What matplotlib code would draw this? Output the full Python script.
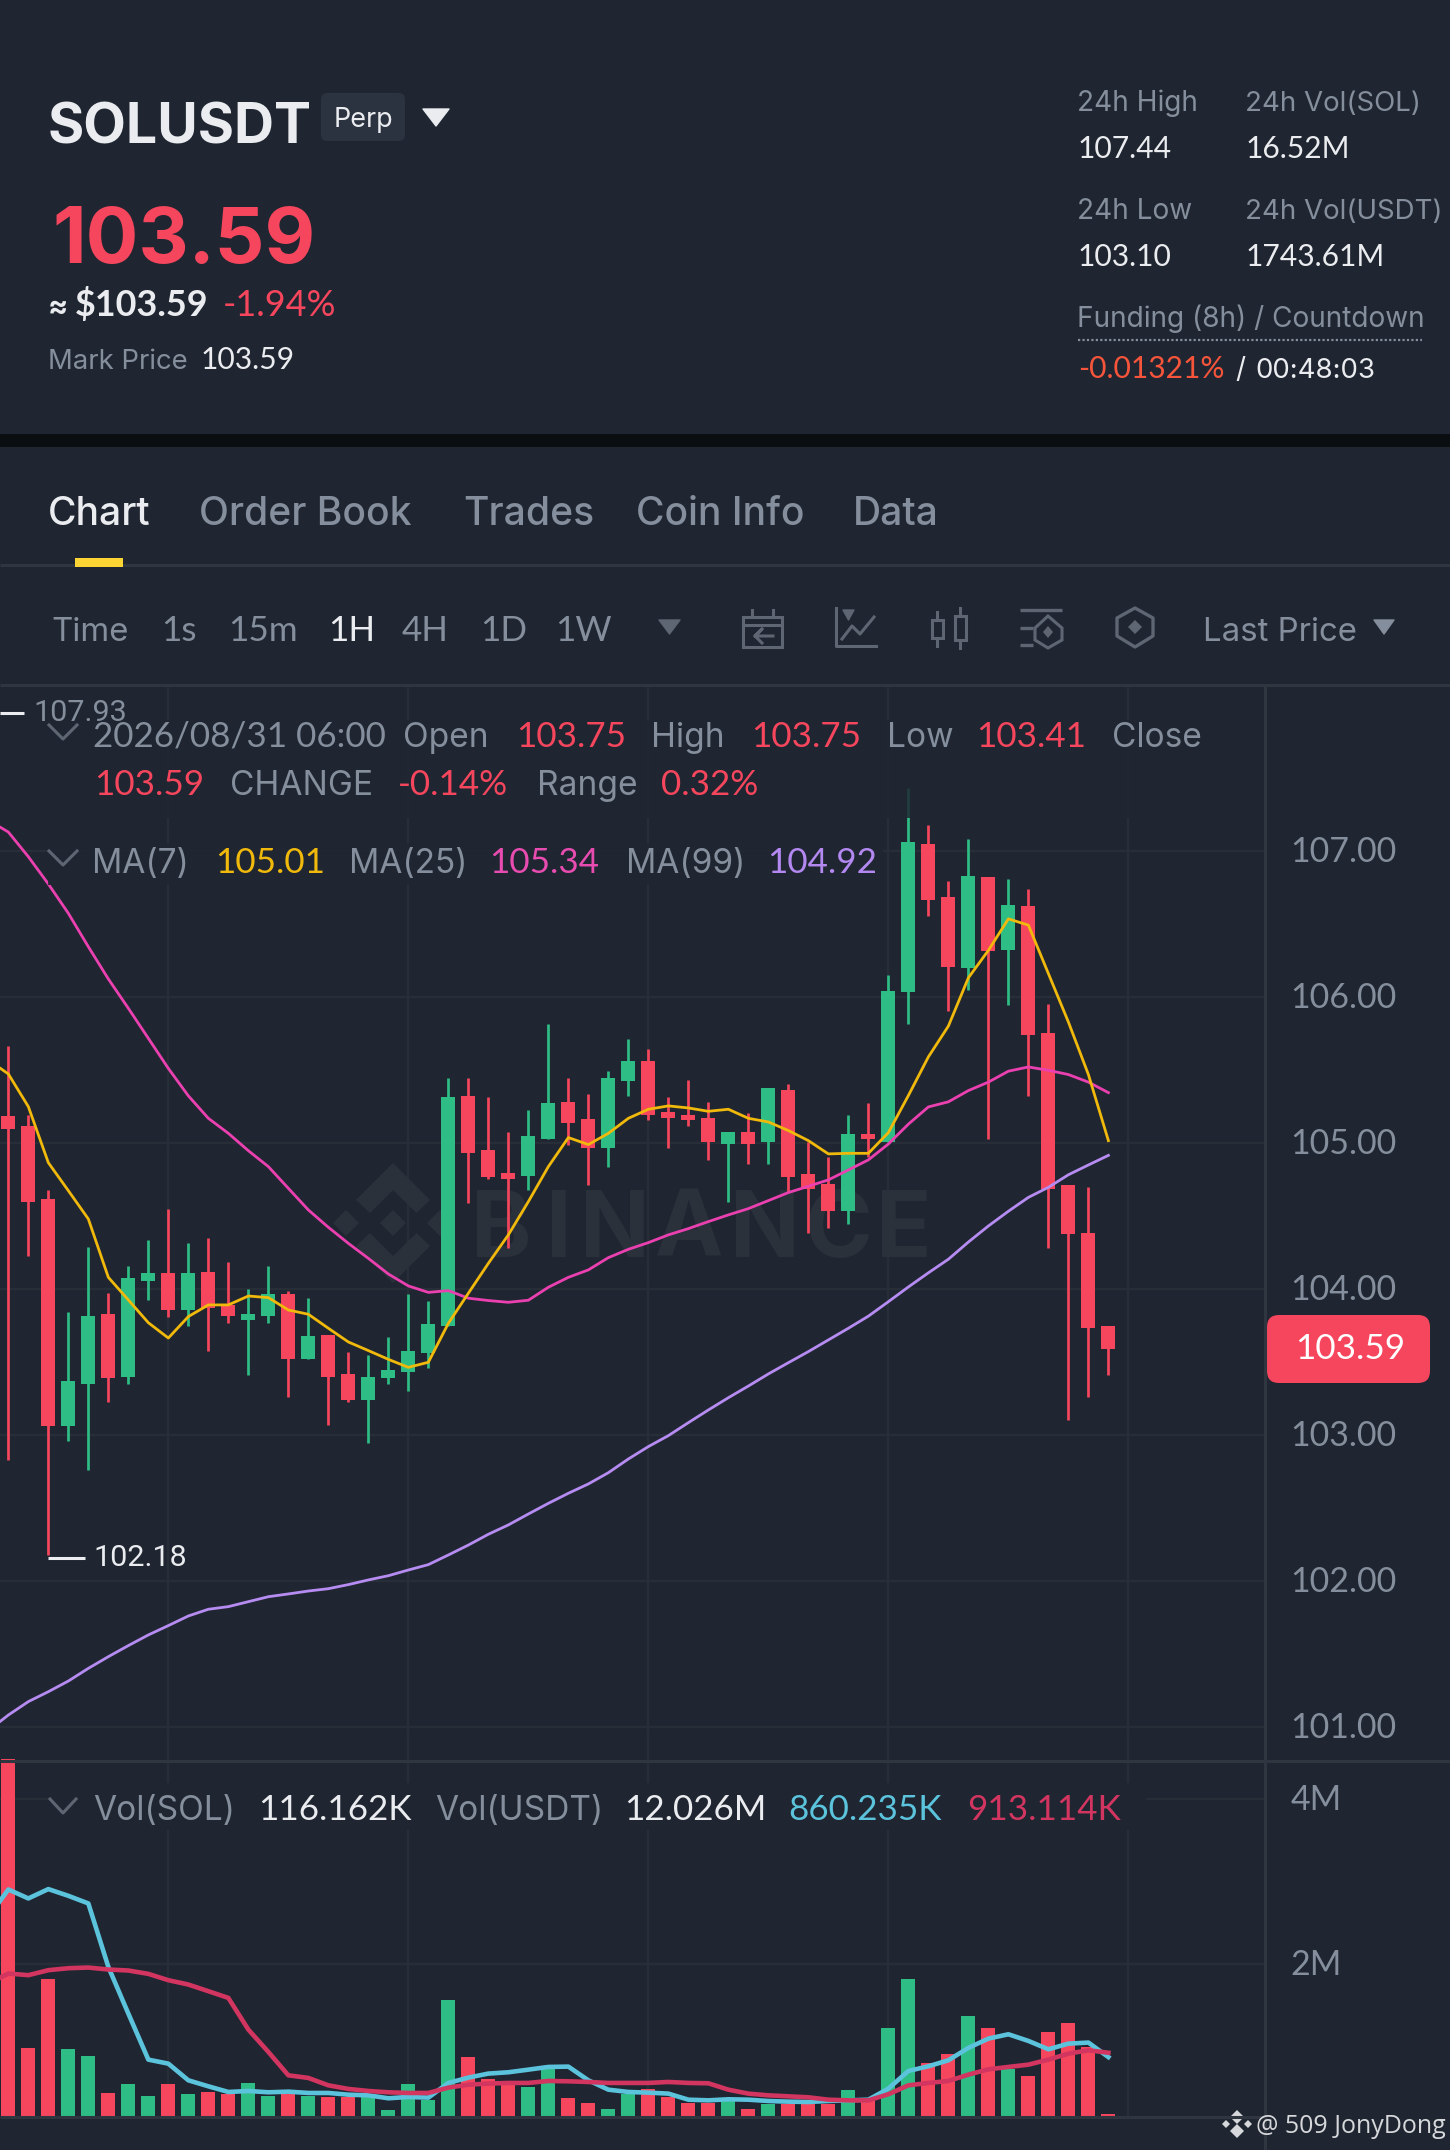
import numpy as np
import matplotlib
matplotlib.use('Agg')
import matplotlib.pyplot as plt
from matplotlib.patches import Rectangle, FancyBboxPatch, Polygon
from matplotlib.transforms import ScaledTranslation

# 1H candles, left to right
opens = [105.187, 105.118, 104.618, 103.060, 103.350, 103.830, 103.400, 104.058, 104.109, 103.857,
         104.118, 103.892, 103.789, 103.818, 103.967, 103.519, 103.688, 103.419, 103.240, 103.389,
         103.430, 103.560, 103.750, 105.326, 104.956, 104.797, 104.778, 105.027, 105.285, 105.167,
         104.968, 105.427, 105.564, 105.217, 105.196, 105.176, 104.998, 105.078, 105.007, 105.365,
         104.787, 104.719, 104.538, 105.066, 105.009, 106.036, 107.052, 106.685, 106.198, 106.824,
         106.325, 106.625, 105.757, 104.715, 104.386, 103.750]
closes = [105.098, 104.600, 103.060, 103.368, 103.818, 103.389, 104.077, 104.109, 103.857, 104.109,
          103.869, 103.818, 103.830, 103.967, 103.519, 103.679, 103.398, 103.240, 103.398, 103.448,
          103.579, 103.759, 105.317, 104.936, 104.767, 104.758, 105.048, 105.276, 105.137, 104.968,
          105.445, 105.564, 105.196, 105.176, 105.158, 105.007, 105.078, 104.998, 105.377, 104.767,
          104.689, 104.538, 105.066, 105.027, 106.045, 107.063, 106.668, 106.206, 106.832, 106.316,
          106.633, 105.739, 104.689, 104.381, 103.732, 103.590]
highs = [105.667, 105.194, 104.680, 103.846, 104.287, 103.976, 104.159, 104.337, 104.547, 104.316,
         104.348, 104.189, 103.999, 104.159, 103.987, 103.937, 103.688, 103.567, 103.549, 103.670,
         103.967, 103.917, 105.447, 105.447, 105.317, 105.078, 105.226, 105.816, 105.445, 105.336,
         105.496, 105.715, 105.644, 105.317, 105.434, 105.285, 105.078, 105.206, 105.377, 105.407,
         105.007, 104.909, 105.196, 105.276, 106.155, 107.432, 107.181, 106.795, 107.083, 106.824,
         106.812, 106.743, 105.956, 104.715, 104.698, 103.750]
lows = [102.829, 104.227, 102.180, 102.962, 102.761, 103.229, 103.350, 103.928, 103.809, 103.750,
        103.579, 103.770, 103.409, 103.770, 103.259, 103.519, 103.069, 103.229, 102.948, 103.350,
        103.302, 103.460, 103.750, 104.588, 104.758, 104.280, 104.680, 105.027, 104.988, 104.717,
        104.840, 105.327, 105.158, 104.968, 105.119, 104.888, 104.600, 104.858, 104.858, 104.669,
        104.388, 104.420, 104.449, 104.909, 105.009, 105.817, 106.555, 105.907, 106.048, 105.030,
        105.947, 105.327, 104.280, 103.100, 103.262, 103.410]

# moving averages, first value sits one candle left of the screen
ma7 = [105.571, 105.475, 105.251, 104.867, 104.675, 104.481, 104.081, 103.926, 103.770, 103.665,
       103.812, 103.892, 103.892, 103.953, 103.942, 103.857, 103.828, 103.732, 103.638, 103.579,
       103.519, 103.464, 103.499, 103.766, 103.972, 104.177, 104.372, 104.600, 104.840, 105.039,
       104.991, 105.068, 105.171, 105.233, 105.256, 105.242, 105.219, 105.233, 105.171, 105.146,
       105.087, 105.018, 104.927, 104.931, 104.931, 105.073, 105.327, 105.592, 105.803, 106.134,
       106.322, 106.538, 106.495, 106.163, 105.831, 105.471, 105.018]
ma25 = [107.215, 107.133, 106.964, 106.777, 106.576, 106.347, 106.126, 105.925, 105.719, 105.513,
        105.325, 105.171, 105.068, 104.949, 104.840, 104.691, 104.543, 104.424, 104.314, 104.211,
        104.104, 104.022, 103.978, 103.990, 103.938, 103.922, 103.910, 103.924, 104.013, 104.081,
        104.132, 104.216, 104.273, 104.319, 104.372, 104.415, 104.463, 104.509, 104.552, 104.607,
        104.662, 104.705, 104.749, 104.817, 104.886, 104.995, 105.131, 105.249, 105.284, 105.361,
        105.419, 105.494, 105.523, 105.500, 105.471, 105.419, 105.347]
ma99 = [100.974, 101.081, 101.173, 101.241, 101.314, 101.401, 101.481, 101.557, 101.630, 101.694,
        101.760, 101.806, 101.824, 101.858, 101.892, 101.911, 101.931, 101.947, 101.975, 102.007,
        102.036, 102.075, 102.112, 102.178, 102.246, 102.320, 102.384, 102.459, 102.532, 102.601,
        102.665, 102.742, 102.836, 102.921, 102.996, 103.085, 103.172, 103.256, 103.336, 103.419,
        103.496, 103.572, 103.652, 103.732, 103.815, 103.914, 104.015, 104.112, 104.205, 104.323,
        104.433, 104.534, 104.629, 104.698, 104.784, 104.851, 104.917]

# volume in millions
volumes = [4.490, 0.976, 1.817, 0.963, 0.874, 0.427, 0.537, 0.390, 0.528, 0.407,
           0.435, 0.415, 0.549, 0.390, 0.415, 0.390, 0.374, 0.374, 0.394, 0.211,
           0.537, 0.341, 1.561, 0.866, 0.598, 0.516, 0.496, 0.720, 0.362, 0.301,
           0.232, 0.415, 0.476, 0.374, 0.301, 0.301, 0.333, 0.232, 0.293, 0.293,
           0.293, 0.293, 0.455, 0.333, 1.211, 1.809, 0.793, 0.902, 1.358, 1.220,
           0.720, 0.630, 1.167, 1.276, 0.984, 0.171]
vol_ma5 = [2.569, 2.902, 2.793, 2.907, 2.825, 2.732, 1.959, 1.390, 0.829, 0.780,
           0.577, 0.504, 0.435, 0.447, 0.431, 0.439, 0.423, 0.423, 0.402, 0.394,
           0.358, 0.374, 0.366, 0.545, 0.610, 0.659, 0.675, 0.707, 0.740, 0.744,
           0.577, 0.463, 0.435, 0.427, 0.415, 0.341, 0.333, 0.346, 0.341, 0.325,
           0.317, 0.313, 0.325, 0.333, 0.341, 0.476, 0.691, 0.748, 0.821, 0.972,
           1.085, 1.138, 1.057, 0.955, 1.024, 1.037, 0.860]
vol_ma10 = [1.756, 1.878, 1.858, 1.919, 1.943, 1.951, 1.927, 1.915, 1.874, 1.797,
            1.744, 1.663, 1.581, 1.195, 0.923, 0.638, 0.606, 0.516, 0.472, 0.447,
            0.431, 0.423, 0.423, 0.488, 0.524, 0.537, 0.545, 0.545, 0.569, 0.565,
            0.557, 0.545, 0.545, 0.545, 0.557, 0.545, 0.541, 0.463, 0.415, 0.394,
            0.382, 0.370, 0.341, 0.333, 0.333, 0.407, 0.516, 0.545, 0.569, 0.646,
            0.711, 0.740, 0.768, 0.829, 0.902, 0.943, 0.913]

price_ticks = [101, 102, 103, 104, 105, 106, 107]
vol_ticks = [2, 4]
time_ticks = [8, 20, 32, 44, 56]

W, H = 1450, 2150
BG = '#1F2631'
GRID = '#272E38'
BORDER = '#30363F'
GREEN = '#2EBD85'
RED = '#F6465D'
GRAY = '#848E9C'
LIGHT = '#EAECEF'
FONT = 'Inter'
NUM = 'Lato'  # tabular digits, closer to the app's numbers than Inter

plt.rcParams['font.family'] = [FONT, 'DejaVu Sans']

fig = plt.figure(figsize=(W / 100, H / 100), dpi=100, facecolor=BG)


def px_axes(left, top, right, bottom, **kw):
    # axes placed by screen pixels
    return fig.add_axes([left / W, 1 - bottom / H, (right - left) / W, (bottom - top) / H], **kw)


def setup_axes(ax, yticks, fmt):
    ax.set_facecolor(BG)
    for s in ax.spines.values():
        s.set_visible(False)
    ax.set_xlim(-0.417, 62.83)
    ax.set_xticks(time_ticks)
    ax.set_yticks(yticks)
    ax.set_yticklabels([fmt(v) for v in yticks], fontsize=24.5, color=GRAY, family=[NUM, 'DejaVu Sans'])
    ax.yaxis.tick_right()
    ax.tick_params(axis='both', length=0, labelbottom=False)
    ax.tick_params(axis='y', pad=18.5)
    ax.grid(True, color=GRID, lw=1.7)
    ax.set_axisbelow(True)
    # labels sit a little above their grid line
    up = ScaledTranslation(0, 2 / 100, fig.dpi_scale_trans)
    for lab in ax.yaxis.get_majorticklabels():
        lab.set_transform(lab.get_transform() + up)


x = np.arange(len(opens))
ma_x = np.arange(-1, len(opens))
colors = [GREEN if c >= o else RED for o, c in zip(opens, closes)]

# price panel
ax = px_axes(0, 686, 1265, 1761)
setup_axes(ax, price_ticks, lambda v: f'{v:.2f}')
ax.set_ylim(100.766, 108.134)
ax.vlines(x, lows, highs, colors=colors, lw=1.95, zorder=3)
ax.bar(x, np.abs(np.array(closes) - np.array(opens)), bottom=np.minimum(opens, closes),
       width=0.7, color=colors, zorder=3)
ax.plot(ma_x, ma99, color='#B78CF2', lw=2.0, zorder=4)
ax.plot(ma_x, ma25, color='#EB40B0', lw=2.0, zorder=4)
ax.plot(ma_x, ma7, color='#F0B90B', lw=2.0, zorder=5)

# volume panel
vax = px_axes(0, 1759, 1265, 2117)
setup_axes(vax, vol_ticks, lambda v: f'{v}M')
vax.set_ylim(0.130, 4.492)
vax.bar(x, volumes, width=0.7, color=colors, zorder=3)
vax.plot(ma_x, vol_ma5, color='#5CC3DC', lw=3.3, zorder=4)
vax.plot(ma_x, vol_ma10, color='#D13560', lw=3.3, zorder=5)

# everything else is screen furniture, drawn in pixel coordinates on top
ui = fig.add_axes([0, 0, 1, 1], facecolor='none')
ui.set_xlim(0, W)
ui.set_ylim(H, 0)
ui.axis('off')

# watermark goes under the candles, so it lives in the price axes
WM = '#2A313B'
cx, cy = 393, 1223
chevron = [(0, -60), (37, -23), (23.5, -10), (0, -33), (-23, -10), (-37, -23)]
shapes = [chevron, [(a, -b) for a, b in chevron],
          [(0, -13), (13, 0), (0, 13), (-13, 0)],
          [(-47, -13), (-34, 0), (-47, 13), (-60, 0)],
          [(47, -13), (60, 0), (47, 13), (34, 0)]]
for pts in shapes:
    ax.add_patch(Polygon([(cx + a, cy + b) for a, b in pts], fc=WM, ec='none',
                         transform=ui.transData, zorder=1))
# letters one by one, the logo text is widely spaced
for ch, xp in zip('BINANCE', [471, 546, 580, 655, 730, 805, 876]):
    ax.text(xp, 1257, ch, transform=ui.transData, fontsize=66, color=WM, weight='bold',
            va='baseline', ha='left', zorder=1, family=[FONT, 'DejaVu Sans'])


def txt(x0, y0, s, px=32, color=GRAY, weight='normal', ha='left', va='baseline', family=None):
    return ui.text(x0, y0, s, fontsize=px * 0.72, color=color, weight=weight, ha=ha, va=va,
                   family=family or [FONT, 'DejaVu Sans'], zorder=10)


def num(x0, y0, s, px=35, color=LIGHT, weight='normal', ha='left', va='baseline'):
    return txt(x0, y0, s, px, color, weight, ha, va, family=[NUM, 'DejaVu Sans'])


def hline(x0, x1, y, color=BORDER, lw=2.2, **kw):
    ui.plot([x0, x1], [y, y], color=color, lw=lw, solid_capstyle='butt', **kw)


def tri(x0, x1, y0, y1, color):
    ui.add_patch(Polygon([(x0, y0), (x1, y0), ((x0 + x1) / 2, y1)], fc=color, ec=color, lw=1,
                         joinstyle='round'))


def chev(x0, x1, y0, y1):
    ui.plot([x0, (x0 + x1) / 2, x1], [y0, y1, y0], color='#5E6673', lw=2.2)


# header
ui.add_patch(Rectangle((0, 434), W, 13, fc='#0B0E11', ec='none'))
txt(48, 143, 'SOLUSDT', 55.5, LIGHT, 'bold')
ui.add_patch(FancyBboxPatch((325, 97), 76, 40, boxstyle='round,pad=4,rounding_size=6', fc='#2B3240', ec='none'))
txt(363, 127, 'Perp', 27, LIGHT, ha='center')
tri(423, 449, 109, 126, LIGHT)
txt(52, 263, '103.59', 78, RED, 'bold')
txt(48, 316, '≈', 30, LIGHT, 'bold')
num(75, 316, '$103.59', 36, LIGHT, 'bold')
num(223, 316, '-1.94%', 36, RED)
txt(48, 369, 'Mark Price', 27.5)
num(201, 369, '103.59', 30)

txt(1077, 111, '24h High', 28)
txt(1245, 111, '24h Vol(SOL)', 27.7)
num(1078, 158, '107.44', 30)
num(1246, 158, '16.52M', 30)
txt(1077, 219, '24h Low', 28)
txt(1245, 219, '24h Vol(USDT)', 27.7)
num(1078, 266, '103.10', 30)
num(1246, 266, '1743.61M', 30)
txt(1077, 327, 'Funding (8h) / Countdown', 28)
ui.plot([1078, 1422], [340, 340], color=GRAY, lw=1.6, ls=(0, (1, 1)))
num(1078, 378, '-0.01321%', 30, '#F7553B')
txt(1235, 378, '/', 28, LIGHT)
txt(1255, 378, '00:48:03', 27.7, LIGHT)

# tabs
for label, xp, col in [('Chart', 48, LIGHT), ('Order Book', 199, GRAY), ('Trades', 463, GRAY),
                       ('Coin Info', 636, GRAY), ('Data', 853, GRAY)]:
    txt(xp, 525, label, 39, col, 'medium')
hline(0, W, 565)
ui.add_patch(Rectangle((75, 558), 48, 9, fc='#FCD535', ec='none', zorder=6))

# interval bar
txt(51, 641, 'Time', 33)
for label, xp, col in [('1s', 161, GRAY), ('15m', 228, GRAY), ('1H', 328, LIGHT),
                       ('4H', 402, GRAY), ('1D', 480, GRAY), ('1W', 555, GRAY)]:
    num(xp, 641, label, 35, col)
txt(1203, 641, 'Last Price', 33)
tri(659, 680, 620, 634, '#5E6673')
tri(1374, 1394, 620, 634, GRAY)

IC = '#5E6673'
# calendar icon
ui.add_patch(Rectangle((743, 617), 39, 30, fc='none', ec=IC, lw=2.2))
hline(743, 782, 625, IC, 2.2)
ui.plot([752, 752], [610, 617], color=IC, lw=2.2)
ui.plot([773, 773], [610, 617], color=IC, lw=2.2)
ui.plot([773, 755, 762, 755, 762], [636, 636, 629, 636, 643], color=IC, lw=2.2)
# line chart icon
ui.plot([836, 836, 876], [608, 646, 646], color=IC, lw=2.2)
ui.plot([842, 852, 860, 874], [639, 626, 634, 617], color=IC, lw=2.2)
tri(843, 854, 610, 620, IC)
# candle icon
ui.add_patch(Rectangle((932, 620), 11, 18, fc='none', ec=IC, lw=2.2))
ui.add_patch(Rectangle((955, 616), 11, 24, fc='none', ec=IC, lw=2.2))
ui.plot([937.5, 937.5], [612, 620], color=IC, lw=2.2)
ui.plot([937.5, 937.5], [638, 646], color=IC, lw=2.2)
ui.plot([960.5, 960.5], [608, 616], color=IC, lw=2.2)
ui.plot([960.5, 960.5], [640, 648], color=IC, lw=2.2)
# indicator settings icon
hline(1020, 1062, 610, IC, 2.4)
hline(1020, 1033, 628, IC, 2.4)
hline(1020, 1033, 645, IC, 2.4)
ui.add_patch(Polygon([(1048, 616), (1062, 628), (1062, 640), (1048, 648), (1035, 640), (1035, 628)],
                     fc='none', ec=IC, lw=2.2))
ui.add_patch(Polygon([(1048, 626), (1053, 632), (1048, 638), (1043, 632)], fc=IC, ec='none'))
# hexagon icon
ui.add_patch(Polygon([(1135, 608), (1153, 618), (1153, 636), (1135, 647), (1117, 636), (1117, 618)],
                     fc='none', ec=IC, lw=2.4, joinstyle='round'))
ui.add_patch(Polygon([(1135, 620), (1142, 627), (1135, 634), (1128, 627)], fc=IC, ec='none'))

# borders
hline(0, W, 685)
hline(0, W, 1761)
hline(0, 1265, 2117)
ui.plot([1265, 1265], [686, H], color=BORDER, lw=2.2)

# legend rows have a translucent backing that hides grid and candles
ui.add_patch(Rectangle((48, 720), 1155, 98, fc=BG, ec='none', alpha=0.85))
ui.add_patch(Rectangle((48, 843), 835, 42, fc=BG, ec='none', alpha=0.85))
ui.add_patch(Rectangle((48, 1783), 1098, 47, fc=BG, ec='none', alpha=0.95))

ORANGE = '#F0B90B'
PINK = '#E84CB0'
PURPLE = '#B388F0'
chev(49, 77, 725, 739)
chev(49, 77, 851, 865)
chev(50, 76, 1799, 1813)

hline(0, 24, 713, LIGHT, 2.2)
txt(33, 721, '107.93', 30.5, GRAY, family=['Roboto', 'DejaVu Sans'])
hline(48, 85, 1558, LIGHT, 2.2, zorder=7)
txt(93, 1566, '102.18', 30.5, LIGHT, family=['Roboto', 'DejaVu Sans'])

# first legend row: labels in the UI font, numbers in the tabular one
for label, xp in [('Open', 403), ('High', 651), ('Low', 887), ('Close', 1112)]:
    txt(xp, 747, label, 33.5)
num(93, 747, '2026/08/31 06:00', 35, GRAY)
for label, xp in [('103.75', 516), ('103.75', 751), ('103.41', 976)]:
    num(xp, 747, label, 35, RED)
for label, xp in [('CHANGE', 230), ('Range', 537)]:
    txt(xp, 795, label, 33.5)
for label, xp in [('103.59', 94), ('-0.14%', 398), ('0.32%', 661)]:
    num(xp, 795, label, 35, RED)
for label, xp in [('MA(7)', 92), ('MA(25)', 349), ('MA(99)', 626)]:
    txt(xp, 873, label, 33.5)
for label, xp, col in [('105.01', 215, ORANGE), ('105.34', 489, PINK), ('104.92', 767, PURPLE)]:
    num(xp, 873, label, 35, col)
for label, xp in [('Vol(SOL)', 93), ('Vol(USDT)', 435)]:
    txt(xp, 1820, label, 33.5)
for label, xp, col in [('116.162K', 258, LIGHT), ('12.026M', 624, LIGHT),
                       ('860.235K', 788, '#5CC3DC'), ('913.114K', 967, '#D13560')]:
    num(xp, 1820, label, 35, col)

# last price tag
ui.add_patch(FancyBboxPatch((1273, 1321), 151, 56, boxstyle='round,pad=6,rounding_size=12', fc=RED, ec='none'))
num(1350, 1349, '103.59', 35, 'white', ha='center', va='center')

# author stamp
for pts in [[(1237, 2110), (1244, 2117), (1237, 2124), (1230, 2117)],
            [(1237, 2124), (1244, 2131), (1237, 2138), (1230, 2131)],
            [(1226, 2120), (1230, 2124), (1226, 2128), (1222, 2124)],
            [(1248, 2120), (1252, 2124), (1248, 2128), (1244, 2124)]]:
    ui.add_patch(Polygon(pts, fc='#D6D8DB', ec='none'))
txt(1256, 2133, '@ 509 JonyDong', 25, '#D6D8DB', family=['Open Sans', 'DejaVu Sans'])

fig.savefig('out.png', dpi=100, facecolor=BG)
